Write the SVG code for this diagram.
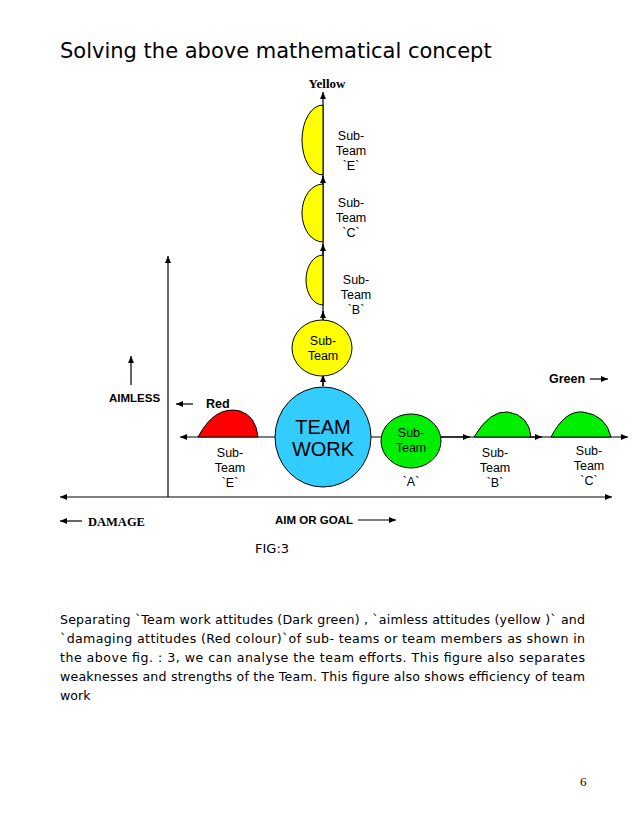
<svg xmlns="http://www.w3.org/2000/svg" width="638" height="826" viewBox="0 0 638 826">
<defs>
<marker id="ah" markerWidth="8" markerHeight="8" refX="7" refY="4" orient="auto" markerUnits="userSpaceOnUse"><path d="M0,1 L7,4 L0,7 Z" fill="#000"/></marker>
<style>
.s{font-family:"Liberation Sans",Arial,sans-serif;font-size:12.5px;text-anchor:middle;fill:#000}
.b{font-family:"Liberation Sans",Arial,sans-serif;font-size:11.5px;font-weight:bold;fill:#000}
.l{stroke:#000;stroke-width:1.2;fill:none}
.a{stroke:#000;stroke-width:1.2;fill:none;marker-end:url(#ah)}
.body{font-family:"DejaVu Sans",Verdana,sans-serif;font-size:12.6px;fill:#000}
.nd{stroke:#000;stroke-width:1}
</style>
</defs>
<rect width="638" height="826" fill="#fff"/>
<text x="60" y="58" font-family="DejaVu Sans,Verdana,sans-serif" font-size="21">Solving the above mathematical concept</text>
<g id="connectors">
<line class="a" x1="323" y1="386" x2="323" y2="92"/>
<line class="a" x1="323" y1="386" x2="323" y2="375"/>
<line class="a" x1="323" y1="320" x2="323" y2="311"/>
<line class="a" x1="323" y1="256" x2="323" y2="244"/>
<line class="a" x1="323" y1="185" x2="323" y2="176"/>
<line class="a" x1="275" y1="437" x2="180" y2="437"/>
<line class="a" x1="371" y1="437" x2="628" y2="437"/>
<line class="a" x1="440" y1="437" x2="470" y2="437"/>
<line class="a" x1="530" y1="437" x2="542" y2="437"/>
<line class="a" x1="168" y1="497" x2="168" y2="256"/>
<line class="a" x1="300" y1="497" x2="612" y2="497"/>
<line class="a" x1="300" y1="497" x2="60" y2="497"/>
<line class="a" x1="131" y1="385" x2="131" y2="356"/>
<line class="a" x1="193" y1="404" x2="176" y2="404"/>
<line class="a" x1="590" y1="379" x2="608" y2="379"/>
<line class="a" x1="82" y1="521" x2="60" y2="521"/>
<line class="a" x1="358" y1="520" x2="396" y2="520"/>
</g>
<g id="teamwork"><ellipse class="nd" cx="323" cy="437" rx="48" ry="50" fill="#33ccff"/><text x="323" y="434" font-family="Liberation Sans,Arial,sans-serif" font-size="20" text-anchor="middle">TEAM</text><text x="323" y="456" font-family="Liberation Sans,Arial,sans-serif" font-size="20" text-anchor="middle">WORK</text></g>
<g id="yellow-subteam"><ellipse class="nd" cx="322" cy="348" rx="30" ry="28" fill="#ffff00"/><text class="s" x="323" y="345">Sub-</text><text class="s" x="323" y="360">Team</text></g>
<g id="yellow-b"><path class="nd" d="M323,255 A17,25 0 0 0 323,305 Z" fill="#ffff00"/><text class="s" x="356" y="284">Sub-</text><text class="s" x="356" y="299">Team</text><text class="s" x="356" y="314">`B`</text></g>
<g id="yellow-c"><path class="nd" d="M323,184 A21,29 0 0 0 323,242 Z" fill="#ffff00"/><text class="s" x="351" y="207">Sub-</text><text class="s" x="351" y="222">Team</text><text class="s" x="351" y="237">`C`</text></g>
<g id="yellow-e"><path class="nd" d="M323,105 A21,35 0 0 0 323,175 Z" fill="#ffff00"/><text class="s" x="351" y="140">Sub-</text><text class="s" x="351" y="155">Team</text><text class="s" x="351" y="170">`E`</text></g>
<text x="327" y="88" font-family="Liberation Serif,serif" font-weight="bold" font-size="13" text-anchor="middle">Yellow</text>
<g id="red-e"><path class="nd" d="M198,437 Q215,405 240,411 Q256,416 258,437 Z" fill="#ff0000"/><text class="s" x="230" y="457">Sub-</text><text class="s" x="230" y="472">Team</text><text class="s" x="230" y="487">`E`</text></g>
<g id="green-a"><ellipse class="nd" cx="411" cy="441" rx="30" ry="27" fill="#00ee00"/><text class="s" x="411" y="437">Sub-</text><text class="s" x="411" y="452">Team</text><text class="s" x="411" y="486">`A`</text></g>
<g id="green-b"><path class="nd" d="M474,437 Q490,410 508,412 Q529,415 531,437 Z" fill="#00ee00"/><text class="s" x="495" y="457">Sub-</text><text class="s" x="495" y="472">Team</text><text class="s" x="495" y="487">`B`</text></g>
<g id="green-c"><path class="nd" d="M551,437 Q565,410 583,412 Q606,415 611,437 Z" fill="#00ee00"/><text class="s" x="589" y="455">Sub-</text><text class="s" x="589" y="470">Team</text><text class="s" x="589" y="485">`C`</text></g>
<text class="b" x="109" y="402">AIMLESS</text>
<text x="206" y="408" font-family="Liberation Sans,Arial,sans-serif" font-weight="bold" font-size="12.5">Red</text>
<text x="549" y="383" font-family="Liberation Sans,Arial,sans-serif" font-weight="bold" font-size="12.5">Green</text>
<text x="88" y="526" font-family="Liberation Serif,serif" font-weight="bold" font-size="12.5">DAMAGE</text>
<text class="b" x="275" y="524">AIM OR GOAL</text>
<text x="255" y="553" font-family="DejaVu Sans,Verdana,sans-serif" font-size="13">FIG:3</text>
<text class="body" x="60" y="624" textLength="525" lengthAdjust="spacing">Separating `Team work attitudes (Dark green) , `aimless attitudes (yellow )` and</text>
<text class="body" x="60" y="643" textLength="525" lengthAdjust="spacing">`damaging attitudes (Red colour)`of sub- teams or team members as shown in</text>
<text class="body" x="60" y="662" textLength="525" lengthAdjust="spacing">the above fig. : 3, we can analyse the team efforts. This figure also separates</text>
<text class="body" x="60" y="681" textLength="525" lengthAdjust="spacing">weaknesses and strengths of the Team. This figure also shows efficiency of team</text>
<text class="body" x="60" y="700">work</text>
<text x="580" y="786" font-family="Liberation Serif,serif" font-size="13">6</text>
</svg>
